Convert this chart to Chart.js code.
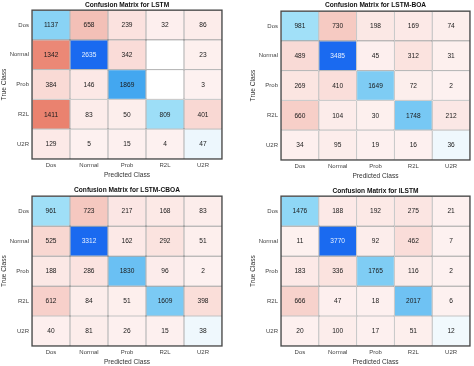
<!DOCTYPE html>
<html>
<head>
<meta charset="utf-8">
<script src="https://cdn.jsdelivr.net/npm/chart.js@4.4.1/dist/chart.umd.min.js"></script>
<style>
html,body{margin:0;padding:0;background:#fff;}
#wrap{position:relative;width:474px;height:366px;overflow:hidden;}
.cell{position:absolute;width:237px;height:183px;}
</style>
</head>
<body>
<div id="wrap">
  <div class="cell" style="left:0;top:0"><canvas id="c0" width="237" height="183"></canvas></div>
  <div class="cell" style="left:237px;top:0"><canvas id="c1" width="237" height="183"></canvas></div>
  <div class="cell" style="left:0;top:183px"><canvas id="c2" width="237" height="183"></canvas></div>
  <div class="cell" style="left:237px;top:183px"><canvas id="c3" width="237" height="183"></canvas></div>
</div>
<script>
// ---- data ----
const classes = ['Dos', 'Normal', 'Prob', 'R2L', 'U2R'];
const modelTitles = ['Confusion Matrix for LSTM', 'Confusion Matrix for LSTM-BOA',
                     'Confusion Matrix for LSTM-CBOA', 'Confusion Matrix for ILSTM'];
const xAxisTitle = 'Predicted Class';
const yAxisTitle = 'True Class';
// rows = true class, columns = predicted class
const lstmCounts = [
  [1137, 658, 239, 32, 86],
  [1342, 2635, 342, 0, 23],
  [384, 146, 1869, 0, 3],
  [1411, 83, 50, 809, 401],
  [129, 5, 15, 4, 47]
];
const lstmBoaCounts = [
  [981, 730, 198, 169, 74],
  [489, 3485, 45, 312, 31],
  [269, 410, 1649, 72, 2],
  [660, 104, 30, 1748, 212],
  [34, 95, 19, 16, 36]
];
const lstmCboaCounts = [
  [961, 723, 217, 168, 83],
  [525, 3312, 162, 292, 51],
  [188, 286, 1830, 96, 2],
  [612, 84, 51, 1609, 398],
  [40, 81, 26, 15, 38]
];
const ilstmCounts = [
  [1476, 188, 192, 275, 21],
  [11, 3770, 92, 462, 7],
  [183, 336, 1765, 116, 2],
  [666, 47, 18, 2017, 6],
  [20, 100, 17, 51, 12]
];
const matrices = [lstmCounts, lstmBoaCounts, lstmCboaCounts, ilstmCounts];

// ---- styling ----
const FONT = "'Liberation Sans', Arial, Helvetica, sans-serif";
Chart.defaults.font.family = FONT;
Chart.defaults.color = '#444';
Chart.defaults.animation = false;

const blueStops = [[0,[255,255,255]],[0.06,[242,249,253]],[0.3,[165,226,248]],[0.46,[138,212,245]],[0.73,[66,166,240]],[1,[26,106,240]]];
const redStops  = [[0,[255,255,255]],[0.06,[253,241,240]],[0.2,[249,217,212]],[0.3,[243,191,181]],[0.56,[234,131,112]],[1,[212,62,40]]];
function grad(stops, t){
  for(let i=1;i<stops.length;i++){
    if(t<=stops[i][0]){
      const [t0,c0]=stops[i-1],[t1,c1]=stops[i];
      const f=(t-t0)/(t1-t0);
      return 'rgb('+c0.map((v,k)=>Math.round(v+(c1[k]-v)*f)).join(',')+')';
    }
  }
  return 'rgb('+stops[stops.length-1][1].join(',')+')';
}
function cellColor(v, max, diag){
  if(v<=0) return '#ffffff';
  const t = 0.06 + 0.94*(v/max);
  return grad(diag?blueStops:redStops, t);
}

// panel geometry (chart area inside 237x183 canvas)
const geo = [
  {left:0, right:15, bottom:4, titlePad:[1.1,1.1], top:0},
  {left:12, right:4, bottom:3, titlePad:[1.1,2.1], top:0},
  {left:0, right:15, bottom:0, titlePad:[3.1,2.1], top:0},
  {left:12, right:4, bottom:0, titlePad:[4.4,0.8], top:0}
];

const cellText = {
  id:'cellText',
  afterDatasetsDraw(chart){
    const ctx = chart.ctx;
    const m = chart.options.plugins.cellText.matrix;
    const max = chart.options.plugins.cellText.max;
    ctx.save();
    ctx.font = '6.6px ' + FONT;
    ctx.textAlign='center';
    ctx.textBaseline='middle';
    chart.data.datasets.forEach((ds, r)=>{
      const meta = chart.getDatasetMeta(r);
      meta.data.forEach((el, c)=>{
        const v = m[r][c];
        if(v<=0) return;
        const cy = (el.y + el.base)/2;
        ctx.fillStyle = (r===c && v/max>0.85) ? '#e6f0ff' : '#1a1a1a';
        ctx.fillText(String(v), el.x, cy+0.5);
      });
    });
    const a = chart.chartArea;
    ctx.strokeStyle = '#4a4a4a';
    ctx.lineWidth = 1.3;
    ctx.strokeRect(a.left, a.top, a.right-a.left, a.bottom-a.top);
    ctx.restore();
  }
};

matrices.forEach((mat, p)=>{
  const max = Math.max(...mat.flat());
  const g = geo[p];
  const datasets = mat.map((row, r)=>({
    label: classes[r],
    data: classes.map(()=>1),
    backgroundColor: row.map((v,c)=>cellColor(v,max,r===c)),
    borderColor: '#8a8a8a',
    borderWidth: 0.6,
    borderSkipped: false,
    inflateAmount: 0,
    barPercentage: 1,
    categoryPercentage: 1,
    stack: 's'
  }));
  new Chart(document.getElementById('c'+p), {
    type:'bar',
    data:{labels: classes, datasets},
    plugins:[cellText],
    options:{
      responsive:false,
      maintainAspectRatio:false,
      layout:{padding:{left:g.left, right:g.right, top:g.titlePad[0], bottom:g.bottom}},
      plugins:{
        legend:{display:false},
        tooltip:{enabled:false},
        title:{display:true, text: modelTitles[p], fullSize:false, color:'#111',
               font:{size:6.6, weight:'bold', family:FONT, lineHeight:1.2},
               padding:{top:0, bottom:g.titlePad[1]}},
        cellText:{matrix: mat, max}
      },
      scales:{
        x:{
          type:'category', stacked:true, offset:true,
          grid:{display:false, drawTicks:false},
          border:{display:false},
          ticks:{font:{size:6, family:FONT}, padding:3, color:'#444', maxRotation:0},
          title:{display:true, text:xAxisTitle, color:'#333', font:{size:6.6, family:FONT, lineHeight:1.2}, padding:{top:0,bottom:0}},
          afterFit(s){ s.height = 20; }
        },
        y:{
          type:'linear', stacked:true, min:0, max:5, reverse:true,
          grid:{display:false, drawTicks:false},
          border:{display:false},
          afterBuildTicks(s){ s.ticks = classes.map((_,i)=>({value:i+0.5})); },
          ticks:{font:{size:6, family:FONT}, padding:3, color:'#444',
                 callback:(v)=>classes[Math.floor(v)]},
          title:{display:true, text:yAxisTitle, color:'#333', font:{size:6.6, family:FONT, lineHeight:1.2}, padding:{top:0,bottom:0}},
          afterFit(s){ s.width = 32; }
        }
      }
    }
  });
});
</script>
</body>
</html>
